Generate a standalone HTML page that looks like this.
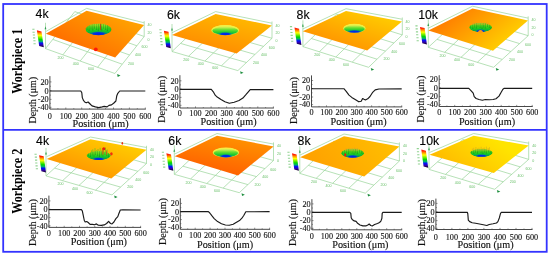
<!DOCTYPE html><html><head><meta charset="utf-8"><style>html,body{margin:0;padding:0;background:#fff;width:550px;height:257px;overflow:hidden}svg{display:block;will-change:transform}</style></head><body>
<svg width="550" height="257" viewBox="0 0 550 257">
<defs>
<linearGradient id="bar" x1="0" y1="0" x2="0" y2="1"><stop offset="0" stop-color="#ff1010"/><stop offset="0.08" stop-color="#ff2800"/><stop offset="0.17" stop-color="#ff9000"/><stop offset="0.3" stop-color="#ffff00"/><stop offset="0.42" stop-color="#80f000"/><stop offset="0.55" stop-color="#00d800"/><stop offset="0.66" stop-color="#00b070"/><stop offset="0.76" stop-color="#0010ff"/><stop offset="0.87" stop-color="#3000b0"/><stop offset="1" stop-color="#100018"/></linearGradient>
<linearGradient id="crater" x1="0" y1="0" x2="0" y2="1"><stop offset="0" stop-color="#b8f030"/><stop offset="0.3" stop-color="#60e020"/><stop offset="0.55" stop-color="#20d020"/><stop offset="0.8" stop-color="#08b040"/><stop offset="1" stop-color="#009060"/></linearGradient>
<linearGradient id="crater2" x1="0" y1="0" x2="0" y2="1"><stop offset="0" stop-color="#eef470"/><stop offset="0.22" stop-color="#c8ee50"/><stop offset="0.45" stop-color="#68de30"/><stop offset="0.7" stop-color="#20cc30"/><stop offset="1" stop-color="#00a860"/></linearGradient>
<radialGradient id="blue"><stop offset="0" stop-color="#0020f0"/><stop offset="0.5" stop-color="#0030e0"/><stop offset="1" stop-color="#00a080" stop-opacity="0"/></radialGradient>
<linearGradient id="pl0" gradientUnits="userSpaceOnUse" x1="47.7" y1="30.1" x2="70.3" y2="-13.3"><stop offset="0" stop-color="#ff7200"/><stop offset="1" stop-color="#ffa400"/></linearGradient>
<linearGradient id="pl1" gradientUnits="userSpaceOnUse" x1="236.6" y1="53.6" x2="245.7" y2="18.7"><stop offset="0" stop-color="#ff9000"/><stop offset="1" stop-color="#ffb700"/></linearGradient>
<linearGradient id="pl2" gradientUnits="userSpaceOnUse" x1="302.7" y1="31.3" x2="315.5" y2="-6.3"><stop offset="0" stop-color="#ff9800"/><stop offset="1" stop-color="#ffca00"/></linearGradient>
<linearGradient id="pl3" gradientUnits="userSpaceOnUse" x1="431.5" y1="34.1" x2="465.0" y2="73.8"><stop offset="0" stop-color="#ff8200"/><stop offset="1" stop-color="#ffca00"/></linearGradient>
<linearGradient id="pl4" gradientUnits="userSpaceOnUse" x1="46.7" y1="158.9" x2="60.1" y2="120.4"><stop offset="0" stop-color="#ff9a00"/><stop offset="1" stop-color="#ffcc00"/></linearGradient>
<linearGradient id="pl5" gradientUnits="userSpaceOnUse" x1="238.0" y1="175.5" x2="244.6" y2="140.9"><stop offset="0" stop-color="#ff6200"/><stop offset="1" stop-color="#ff8f00"/></linearGradient>
<linearGradient id="pl6" gradientUnits="userSpaceOnUse" x1="300.1" y1="157.3" x2="370.1" y2="106.2"><stop offset="0" stop-color="#ff9f00"/><stop offset="1" stop-color="#ffc000"/></linearGradient>
<linearGradient id="pl7" gradientUnits="userSpaceOnUse" x1="429.5" y1="154.8" x2="459.4" y2="113.7"><stop offset="0" stop-color="#ffba00"/><stop offset="1" stop-color="#ffe400"/></linearGradient>
</defs>
<rect width="550" height="257" fill="#fff"/>
<g stroke="#98d498" stroke-width="0.7" fill="none"><polygon points="45.5,48.6 74.8,11.6 144.2,36.5 114.9,73.5"/><line x1="62.9" y1="54.8" x2="92.1" y2="17.8"/><line x1="52.8" y1="39.4" x2="122.2" y2="64.2"/><line x1="80.2" y1="61.0" x2="109.5" y2="24.1"/><line x1="60.1" y1="30.1" x2="129.6" y2="55.0"/><line x1="97.6" y1="67.3" x2="126.8" y2="30.3"/><line x1="67.5" y1="20.9" x2="136.9" y2="45.8"/><polyline points="45.8,31.5 86.6,8.4 144.1,22.8"/><line x1="45.5" y1="22.799999999999997" x2="45.5" y2="48.6"/><line x1="144.2" y1="21.1" x2="144.2" y2="36.5"/></g>
<g font-family="Liberation Sans, sans-serif" font-size="3.6" fill="#3fae3f" opacity="0.8"><text x="57.6" y="59.3">200</text><text x="72.8" y="64.8">400</text><text x="88.1" y="70.3">600</text><text x="128.1" y="64.7">200</text><text x="134.9" y="56.2">400</text><text x="141.6" y="47.7">600</text><text x="147.6" y="26.1">40</text><text x="147.6" y="33.6">20</text><text x="147.6" y="41.1">0</text></g>
<path d="M117.1,74.1 l3.4,1.5 l-2.8,1.3 z" fill="#1f8f3f"/>
<path d="M44.6,29.3 h1.8 l-0.9,-3 z" fill="#2f9f4f"/>
<polygon points="45.8,33.8 86.6,10.7 144.1,25.1 115.2,57.4" fill="url(#pl0)"/>
<clipPath id="cc0"><ellipse cx="98.5" cy="29.4" rx="13" ry="5.8"/></clipPath>
<g clip-path="url(#cc0)"><ellipse cx="98.5" cy="29.4" rx="13" ry="5.8" fill="url(#crater)"/><path d="M85.5,23.6 v5.2 M87.1,23.6 v6.4 M89.1,23.6 v7.5 M91.0,23.6 v5.8 M92.8,23.6 v7.0 M94.4,23.6 v5.2 M96.4,23.6 v6.4 M98.3,23.6 v7.5 M100.1,23.6 v5.8 M101.7,23.6 v7.0 M103.7,23.6 v5.2 M105.6,23.6 v6.4 M107.4,23.6 v7.5 M109.0,23.6 v5.8 M111.0,23.6 v7.0" stroke="#067018" stroke-width="0.7" opacity="0.6"/><ellipse cx="98.5" cy="34.0" rx="10.4" ry="2.9" fill="url(#blue)"/></g>
<path d="M90.7,26.2 V24.2 M92.0,26.2 V23.8 M94.2,26.2 V23.5 M96.0,26.2 V24.1 M97.2,26.2 V23.7 M99.5,26.2 V23.4 M101.2,26.2 V24.0 M102.5,26.2 V23.6 M104.7,26.2 V23.3" stroke="#a0d020" stroke-width="0.8" opacity="0.8"/>
<ellipse cx="100.6" cy="27.0" rx="0.55" ry="3.4" fill="#b84018"/>
<ellipse cx="95.8" cy="49.4" rx="1.9" ry="1.8" fill="#ff1808"/>
<polygon points="36.9,30.3 41.5,31.4 43.8,47.2 39.2,46.1" fill="url(#bar)"/>
<path d="M32.3,29.3 h2.2 M32.5,32.2 h2.2 M32.8,35.0 h2.2 M33.0,37.9 h2.2 M33.3,40.8 h2.2 M33.5,43.7 h2.2" stroke="#6cc46c" stroke-width="1.1" opacity="0.75"/>
<text x="35.6" y="18.0" font-family="Liberation Sans, sans-serif" font-size="12.3" fill="#000" stroke="#000" stroke-width="0.12">4k</text>
<g stroke="#98d498" stroke-width="0.7" fill="none"><polygon points="172.0,51.5 206.1,19.2 272.0,38.3 237.9,70.6"/><line x1="188.5" y1="56.3" x2="222.6" y2="24.0"/><line x1="180.5" y1="43.4" x2="246.4" y2="62.5"/><line x1="204.9" y1="61.0" x2="239.1" y2="28.8"/><line x1="189.1" y1="35.4" x2="254.9" y2="54.4"/><line x1="221.4" y1="65.8" x2="255.5" y2="33.5"/><line x1="197.6" y1="27.3" x2="263.5" y2="46.4"/><polyline points="172.0,32.7 215.6,11.6 271.9,23.2"/><line x1="172" y1="24" x2="172" y2="51.5"/><line x1="272" y1="21.5" x2="272" y2="38.3"/></g>
<g font-family="Liberation Sans, sans-serif" font-size="3.6" fill="#3fae3f" opacity="0.8"><text x="183.3" y="61.0">200</text><text x="197.8" y="65.2">400</text><text x="212.3" y="69.4">600</text><text x="253.0" y="63.7">200</text><text x="260.9" y="56.3">400</text><text x="268.7" y="48.8">600</text><text x="275.4" y="26.5">40</text><text x="275.4" y="34.0">20</text><text x="275.4" y="41.5">0</text></g>
<path d="M240.1,71.2 l3.4,1.5 l-2.8,1.3 z" fill="#1f8f3f"/>
<path d="M171.1,30.5 h1.8 l-0.9,-3 z" fill="#2f9f4f"/>
<polygon points="172.0,35.0 215.6,13.9 271.9,25.5 236.6,53.6" fill="url(#pl1)"/>
<clipPath id="cc1"><ellipse cx="225.2" cy="30.2" rx="13.8" ry="5.1"/></clipPath>
<g clip-path="url(#cc1)"><ellipse cx="225.2" cy="30.2" rx="13.8" ry="5.1" fill="url(#crater2)"/><ellipse cx="225.2" cy="30.8" rx="13.8" ry="5.1" fill="none" stroke="#f4f040" stroke-width="1.8" opacity="0.9"/><ellipse cx="225.2" cy="34.3" rx="8.3" ry="2.5" fill="url(#blue)"/></g>
<polygon points="163.9,30.7 168.5,31.8 170.8,48.2 166.2,47.1" fill="url(#bar)"/>
<path d="M159.3,29.7 h2.2 M159.6,32.7 h2.2 M159.8,35.7 h2.2 M160.1,38.6 h2.2 M160.3,41.6 h2.2 M160.6,44.6 h2.2" stroke="#6cc46c" stroke-width="1.1" opacity="0.75"/>
<text x="167.0" y="19.0" font-family="Liberation Sans, sans-serif" font-size="12.3" fill="#000" stroke="#000" stroke-width="0.12">6k</text>
<g stroke="#98d498" stroke-width="0.7" fill="none"><polygon points="302.9,46.6 336.6,14.2 402.3,34.9 368.6,67.3"/><line x1="319.3" y1="51.8" x2="353.0" y2="19.4"/><line x1="311.3" y1="38.5" x2="377.0" y2="59.2"/><line x1="335.8" y1="57.0" x2="369.4" y2="24.6"/><line x1="319.8" y1="30.4" x2="385.5" y2="51.1"/><line x1="352.2" y1="62.1" x2="385.9" y2="29.7"/><line x1="328.2" y1="22.3" x2="393.9" y2="43.0"/><polyline points="302.7,29.0 346.0,8.7 402.0,19.2"/><line x1="302.9" y1="20.3" x2="302.9" y2="46.6"/><line x1="402.3" y1="17.5" x2="402.3" y2="34.9"/></g>
<g font-family="Liberation Sans, sans-serif" font-size="3.6" fill="#3fae3f" opacity="0.8"><text x="314.2" y="56.4">200</text><text x="328.7" y="61.0">400</text><text x="343.1" y="65.6">600</text><text x="383.6" y="60.3">200</text><text x="391.3" y="52.9">400</text><text x="399.1" y="45.4">600</text><text x="405.5" y="22.5">40</text><text x="405.5" y="30.0">20</text><text x="405.5" y="37.5">0</text></g>
<path d="M370.8,67.9 l3.4,1.5 l-2.8,1.3 z" fill="#1f8f3f"/>
<path d="M302.0,26.8 h1.8 l-0.9,-3 z" fill="#2f9f4f"/>
<polygon points="302.7,31.3 346.0,11.0 402.0,21.5 367.2,50.5" fill="url(#pl2)"/>
<clipPath id="cc2"><ellipse cx="354.4" cy="28.3" rx="11.25" ry="4.5"/></clipPath>
<g clip-path="url(#cc2)"><ellipse cx="354.4" cy="28.3" rx="11.25" ry="4.5" fill="url(#crater2)"/><ellipse cx="354.4" cy="28.900000000000002" rx="11.25" ry="4.5" fill="none" stroke="#f4f040" stroke-width="1.8" opacity="0.9"/><ellipse cx="354.4" cy="31.9" rx="8.4" ry="2.2" fill="url(#blue)"/></g>
<polygon points="294.5,27.6 299.1,28.8 301.4,44.9 296.8,43.8" fill="url(#bar)"/>
<path d="M289.9,26.6 h2.2 M290.1,29.5 h2.2 M290.4,32.5 h2.2 M290.6,35.4 h2.2 M290.9,38.4 h2.2 M291.1,41.3 h2.2" stroke="#6cc46c" stroke-width="1.1" opacity="0.75"/>
<text x="296.6" y="19.0" font-family="Liberation Sans, sans-serif" font-size="12.3" fill="#000" stroke="#000" stroke-width="0.12">8k</text>
<g stroke="#98d498" stroke-width="0.7" fill="none"><polygon points="428.3,47.3 462.9,15.7 528.2,35.7 493.6,67.3"/><line x1="444.6" y1="52.3" x2="479.2" y2="20.7"/><line x1="437.0" y1="39.4" x2="502.2" y2="59.4"/><line x1="461.0" y1="57.3" x2="495.6" y2="25.7"/><line x1="445.6" y1="31.5" x2="510.9" y2="51.5"/><line x1="477.3" y1="62.3" x2="511.9" y2="30.7"/><line x1="454.2" y1="23.6" x2="519.6" y2="43.6"/><polyline points="428.4,28.1 472.5,6.2 528.0,18.1"/><line x1="428.3" y1="19.4" x2="428.3" y2="47.3"/><line x1="528.2" y1="16.4" x2="528.2" y2="35.7"/></g>
<g font-family="Liberation Sans, sans-serif" font-size="3.6" fill="#3fae3f" opacity="0.8"><text x="439.5" y="57.0">200</text><text x="453.9" y="61.4">400</text><text x="468.2" y="65.8">600</text><text x="508.9" y="60.7">200</text><text x="516.9" y="53.4">400</text><text x="524.9" y="46.1">600</text><text x="531.5" y="21.4">40</text><text x="531.5" y="28.9">20</text><text x="531.5" y="36.4">0</text></g>
<path d="M495.8,67.9 l3.4,1.5 l-2.8,1.3 z" fill="#1f8f3f"/>
<path d="M427.4,25.9 h1.8 l-0.9,-3 z" fill="#2f9f4f"/>
<polygon points="428.4,30.4 472.5,8.5 528.0,20.4 493.0,50.7" fill="url(#pl3)"/>
<clipPath id="cc3"><ellipse cx="480.6" cy="27.5" rx="11.5" ry="4.75"/></clipPath>
<g clip-path="url(#cc3)"><ellipse cx="480.6" cy="27.5" rx="11.5" ry="4.75" fill="url(#crater)"/><path d="M469.1,22.8 v4.3 M470.7,22.8 v5.2 M472.8,22.8 v6.2 M474.7,22.8 v4.8 M476.4,22.8 v5.7 M478.0,22.8 v4.3 M480.1,22.8 v5.2 M482.0,22.8 v6.2 M483.7,22.8 v4.8 M485.3,22.8 v5.7 M487.4,22.8 v4.3 M489.3,22.8 v5.2 M491.0,22.8 v6.2" stroke="#067018" stroke-width="0.7" opacity="0.6"/><ellipse cx="480.6" cy="31.3" rx="5.8" ry="2.4" fill="url(#blue)"/></g>
<path d="M472.6,24.9 V23.0 M473.9,24.9 V22.5 M476.1,24.9 V22.0 M477.8,24.9 V22.9 M479.1,24.9 V22.3 M481.3,24.9 V21.8 M483.1,24.9 V22.7 M484.4,24.9 V22.2 M486.6,24.9 V21.7 M488.3,24.9 V22.6" stroke="#e0a020" stroke-width="0.8" opacity="0.8"/>
<ellipse cx="480.5" cy="31.6" rx="2.2" ry="1.6" fill="#ff9a10"/>
<polygon points="420.0,26.9 424.6,28.0 426.9,44.4 422.3,43.3" fill="url(#bar)"/>
<path d="M415.4,25.9 h2.2 M415.6,28.9 h2.2 M415.9,31.9 h2.2 M416.1,34.8 h2.2 M416.4,37.8 h2.2 M416.6,40.8 h2.2" stroke="#6cc46c" stroke-width="1.1" opacity="0.75"/>
<text x="418.2" y="18.8" font-family="Liberation Sans, sans-serif" font-size="12.3" fill="#000" stroke="#000" stroke-width="0.12">10k</text>
<g stroke="#98d498" stroke-width="0.7" fill="none"><polygon points="46.0,175.9 80.5,144.5 146.5,163.5 112.0,194.9"/><line x1="62.5" y1="180.7" x2="97.0" y2="149.2"/><line x1="54.6" y1="168.1" x2="120.6" y2="187.1"/><line x1="79.0" y1="185.4" x2="113.5" y2="154.0"/><line x1="63.2" y1="160.2" x2="129.2" y2="179.2"/><line x1="95.5" y1="190.2" x2="130.0" y2="158.8"/><line x1="71.9" y1="152.3" x2="137.9" y2="171.3"/><polyline points="46.7,156.6 90.5,137.0 146.5,147.5"/><line x1="46.0" y1="147.9" x2="46.0" y2="175.9"/><line x1="146.5" y1="145.8" x2="146.5" y2="163.5"/></g>
<g font-family="Liberation Sans, sans-serif" font-size="3.6" fill="#3fae3f" opacity="0.8"><text x="57.4" y="185.4">200</text><text x="71.9" y="189.6">400</text><text x="86.4" y="193.8">600</text><text x="127.3" y="188.3">200</text><text x="135.2" y="181.1">400</text><text x="143.2" y="173.9">600</text><text x="150.0" y="150.8">40</text><text x="150.0" y="158.3">20</text><text x="150.0" y="165.8">0</text></g>
<path d="M114.2,195.5 l3.4,1.5 l-2.8,1.3 z" fill="#1f8f3f"/>
<path d="M45.1,154.4 h1.8 l-0.9,-3 z" fill="#2f9f4f"/>
<polygon points="46.7,158.9 90.5,139.3 146.5,149.8 111.3,178.6" fill="url(#pl4)"/>
<clipPath id="cc4"><ellipse cx="98.7" cy="155.6" rx="12" ry="4.5"/></clipPath>
<g clip-path="url(#cc4)"><ellipse cx="98.7" cy="155.6" rx="12" ry="4.5" fill="url(#crater)"/><path d="M86.7,151.1 v4.0 M88.3,151.1 v5.0 M90.3,151.1 v5.9 M92.2,151.1 v4.5 M94.0,151.1 v5.4 M95.6,151.1 v4.0 M97.6,151.1 v5.0 M99.5,151.1 v5.9 M101.3,151.1 v4.5 M102.9,151.1 v5.4 M104.9,151.1 v4.0 M106.8,151.1 v5.0 M108.6,151.1 v5.9 M110.2,151.1 v4.5" stroke="#067018" stroke-width="0.7" opacity="0.6"/><ellipse cx="98.7" cy="159.2" rx="7.2" ry="2.2" fill="url(#blue)"/></g>
<path d="M91.5,153.1 V150.4 M92.8,153.1 V149.3 M95.0,153.1 V148.1 M96.8,153.1 V150.1 M98.0,153.1 V149.0 M100.2,153.1 V147.8 M102.0,153.1 V149.8 M103.3,153.1 V148.7 M105.5,153.1 V147.5 M107.2,153.1 V149.5" stroke="#50c820" stroke-width="0.8" opacity="0.8"/>
<ellipse cx="103.8" cy="148.8" rx="1.6" ry="1.5" fill="#e82008"/>
<ellipse cx="111.4" cy="153.8" rx="1.3" ry="1.6" fill="#f03010"/>
<ellipse cx="122.3" cy="143.3" rx="0.8" ry="1.4" fill="#e83010"/>
<ellipse cx="102.9" cy="152" rx="0.6" ry="3" fill="#e05010"/>
<ellipse cx="106.5" cy="152.5" rx="0.5" ry="2.5" fill="#c06020"/>
<polygon points="39.1,155.2 43.7,156.3 46.0,172.4 41.4,171.3" fill="url(#bar)"/>
<path d="M34.5,154.2 h2.2 M34.8,157.1 h2.2 M35.0,160.1 h2.2 M35.2,163.0 h2.2 M35.5,165.9 h2.2 M35.8,168.8 h2.2" stroke="#6cc46c" stroke-width="1.1" opacity="0.75"/>
<text x="36.1" y="145.2" font-family="Liberation Sans, sans-serif" font-size="12.3" fill="#000" stroke="#000" stroke-width="0.12">4k</text>
<g stroke="#98d498" stroke-width="0.7" fill="none"><polygon points="174.3,174.3 208.5,142.1 273.5,160.5 239.3,192.7"/><line x1="190.6" y1="178.9" x2="224.8" y2="146.7"/><line x1="182.9" y1="166.2" x2="247.9" y2="184.6"/><line x1="206.8" y1="183.5" x2="241.0" y2="151.3"/><line x1="191.4" y1="158.2" x2="256.4" y2="176.6"/><line x1="223.1" y1="188.1" x2="257.2" y2="155.9"/><line x1="199.9" y1="150.2" x2="264.9" y2="168.6"/><polyline points="174.7,154.0 217.0,133.5 273.6,144.1"/><line x1="174.3" y1="145.3" x2="174.3" y2="174.3"/><line x1="273.5" y1="142.4" x2="273.5" y2="160.5"/></g>
<g font-family="Liberation Sans, sans-serif" font-size="3.6" fill="#3fae3f" opacity="0.8"><text x="185.5" y="183.7">200</text><text x="199.8" y="187.7">400</text><text x="214.1" y="191.8">600</text><text x="254.5" y="185.8">200</text><text x="262.3" y="178.4">400</text><text x="270.2" y="171.0">600</text><text x="277.1" y="147.4">40</text><text x="277.1" y="154.9">20</text><text x="277.1" y="162.4">0</text></g>
<path d="M241.5,193.3 l3.4,1.5 l-2.8,1.3 z" fill="#1f8f3f"/>
<path d="M173.4,151.8 h1.8 l-0.9,-3 z" fill="#2f9f4f"/>
<polygon points="174.7,156.3 217.0,135.8 273.6,146.4 238.0,175.5" fill="url(#pl5)"/>
<clipPath id="cc5"><ellipse cx="225.9" cy="152.5" rx="13.1" ry="4.9"/></clipPath>
<g clip-path="url(#cc5)"><ellipse cx="225.9" cy="152.5" rx="13.1" ry="4.9" fill="url(#crater2)"/><ellipse cx="225.9" cy="153.1" rx="13.1" ry="4.9" fill="none" stroke="#f4f040" stroke-width="1.8" opacity="0.9"/><ellipse cx="225.9" cy="156.4" rx="7.2" ry="2.5" fill="url(#blue)"/></g>
<polygon points="166.4,153.3 171.0,154.5 173.3,170.8 168.7,169.6" fill="url(#bar)"/>
<path d="M161.8,152.3 h2.2 M162.1,155.3 h2.2 M162.3,158.2 h2.2 M162.6,161.2 h2.2 M162.8,164.2 h2.2 M163.1,167.1 h2.2" stroke="#6cc46c" stroke-width="1.1" opacity="0.75"/>
<text x="168.3" y="145.2" font-family="Liberation Sans, sans-serif" font-size="12.3" fill="#000" stroke="#000" stroke-width="0.12">6k</text>
<g stroke="#98d498" stroke-width="0.7" fill="none"><polygon points="299.8,173.4 333.9,141.2 399.4,161.0 365.3,193.2"/><line x1="316.2" y1="178.3" x2="350.3" y2="146.2"/><line x1="308.3" y1="165.4" x2="373.8" y2="185.1"/><line x1="332.6" y1="183.3" x2="366.6" y2="151.1"/><line x1="316.9" y1="157.3" x2="382.4" y2="177.1"/><line x1="348.9" y1="188.2" x2="383.0" y2="156.1"/><line x1="325.4" y1="149.2" x2="390.9" y2="169.1"/><polyline points="300.1,155.0 344.0,134.0 399.4,144.1"/><line x1="299.8" y1="146.3" x2="299.8" y2="173.4"/><line x1="399.4" y1="142.4" x2="399.4" y2="161"/></g>
<g font-family="Liberation Sans, sans-serif" font-size="3.6" fill="#3fae3f" opacity="0.8"><text x="311.1" y="183.1">200</text><text x="325.5" y="187.4">400</text><text x="339.9" y="191.8">600</text><text x="380.4" y="186.3">200</text><text x="388.3" y="178.9">400</text><text x="396.1" y="171.5">600</text><text x="402.9" y="147.4">40</text><text x="402.9" y="154.9">20</text><text x="402.9" y="162.4">0</text></g>
<path d="M367.5,193.8 l3.4,1.5 l-2.8,1.3 z" fill="#1f8f3f"/>
<path d="M298.9,152.8 h1.8 l-0.9,-3 z" fill="#2f9f4f"/>
<polygon points="300.1,157.3 344.0,136.3 399.4,146.4 364.2,176.4" fill="url(#pl6)"/>
<clipPath id="cc6"><ellipse cx="352.6" cy="153.2" rx="11.5" ry="4.6"/></clipPath>
<g clip-path="url(#cc6)"><ellipse cx="352.6" cy="153.2" rx="11.5" ry="4.6" fill="url(#crater)"/><path d="M341.1,148.6 v4.1 M342.7,148.6 v5.1 M344.8,148.6 v6.0 M346.7,148.6 v4.6 M348.4,148.6 v5.5 M350.0,148.6 v4.1 M352.1,148.6 v5.1 M354.0,148.6 v6.0 M355.7,148.6 v4.6 M357.3,148.6 v5.5 M359.4,148.6 v4.1 M361.3,148.6 v5.1 M363.0,148.6 v6.0" stroke="#067018" stroke-width="0.7" opacity="0.6"/><ellipse cx="352.6" cy="156.9" rx="6.9" ry="2.3" fill="url(#blue)"/></g>
<path d="M345.7,150.7 V148.8 M347.0,150.7 V148.3 M349.2,150.7 V147.8 M351.0,150.7 V148.7 M352.3,150.7 V148.2 M354.5,150.7 V147.6 M356.2,150.7 V148.6 M357.5,150.7 V148.0" stroke="#e0a030" stroke-width="0.8" opacity="0.8"/>
<ellipse cx="345.3" cy="154.9" rx="1.1" ry="1.6" fill="#f01808"/>
<polygon points="292.0,153.3 296.6,154.5 298.9,170.8 294.3,169.6" fill="url(#bar)"/>
<path d="M287.4,152.3 h2.2 M287.6,155.3 h2.2 M287.9,158.2 h2.2 M288.1,161.2 h2.2 M288.4,164.2 h2.2 M288.6,167.1 h2.2" stroke="#6cc46c" stroke-width="1.1" opacity="0.75"/>
<text x="297.6" y="145.4" font-family="Liberation Sans, sans-serif" font-size="12.3" fill="#000" stroke="#000" stroke-width="0.12">8k</text>
<g stroke="#98d498" stroke-width="0.7" fill="none"><polygon points="429.0,169.4 463.0,139.5 528.7,159.4 494.7,189.3"/><line x1="445.4" y1="174.4" x2="479.4" y2="144.5"/><line x1="437.5" y1="161.9" x2="503.2" y2="181.8"/><line x1="461.9" y1="179.4" x2="495.9" y2="149.4"/><line x1="446.0" y1="154.4" x2="511.7" y2="174.4"/><line x1="478.3" y1="184.3" x2="512.3" y2="154.4"/><line x1="454.5" y1="147.0" x2="520.2" y2="166.9"/><polyline points="429.5,152.5 473.6,133.5 528.7,143.2"/><line x1="429" y1="143.8" x2="429" y2="169.4"/><line x1="528.7" y1="141.5" x2="528.7" y2="159.4"/></g>
<g font-family="Liberation Sans, sans-serif" font-size="3.6" fill="#3fae3f" opacity="0.8"><text x="440.3" y="179.1">200</text><text x="454.8" y="183.5">400</text><text x="469.2" y="187.8">600</text><text x="509.8" y="183.3">200</text><text x="517.6" y="176.5">400</text><text x="525.4" y="169.6">600</text><text x="532.2" y="146.5">40</text><text x="532.2" y="154.0">20</text><text x="532.2" y="161.5">0</text></g>
<path d="M496.9,189.9 l3.4,1.5 l-2.8,1.3 z" fill="#1f8f3f"/>
<path d="M428.1,150.3 h1.8 l-0.9,-3 z" fill="#2f9f4f"/>
<polygon points="429.5,154.8 473.6,135.8 528.7,145.5 493.8,173.0" fill="url(#pl7)"/>
<clipPath id="cc7"><ellipse cx="481.4" cy="152.8" rx="11.3" ry="4.0"/></clipPath>
<g clip-path="url(#cc7)"><ellipse cx="481.4" cy="152.8" rx="11.3" ry="4.0" fill="url(#crater)"/><path d="M470.1,148.8 v3.6 M471.7,148.8 v4.4 M473.8,148.8 v5.2 M475.6,148.8 v4.0 M477.4,148.8 v4.8 M479.0,148.8 v3.6 M481.1,148.8 v4.4 M482.9,148.8 v5.2 M484.7,148.8 v4.0 M486.3,148.8 v4.8 M488.4,148.8 v3.6 M490.2,148.8 v4.4 M492.0,148.8 v5.2" stroke="#067018" stroke-width="0.7" opacity="0.6"/><ellipse cx="481.4" cy="156.0" rx="6.8" ry="2.0" fill="url(#blue)"/></g>
<path d="M472.4,150.6 V148.6 M473.7,150.6 V147.8 M475.9,150.6 V147.0 M477.6,150.6 V148.4 M478.9,150.6 V147.6 M481.1,150.6 V146.8 M482.9,150.6 V148.2 M484.2,150.6 V147.4 M486.4,150.6 V146.6 M488.1,150.6 V148.0 M489.4,150.6 V147.2" stroke="#d0b020" stroke-width="0.8" opacity="0.8"/>
<polygon points="421.3,149.6 425.9,150.8 428.2,167.7 423.6,166.5" fill="url(#bar)"/>
<path d="M416.7,148.6 h2.2 M416.9,151.7 h2.2 M417.2,154.7 h2.2 M417.4,157.8 h2.2 M417.7,160.9 h2.2 M417.9,164.0 h2.2" stroke="#6cc46c" stroke-width="1.1" opacity="0.75"/>
<text x="419.3" y="145.2" font-family="Liberation Sans, sans-serif" font-size="12.3" fill="#000" stroke="#000" stroke-width="0.12">10k</text>
<g font-family="Liberation Serif, serif" font-size="8.2" fill="#111" stroke="#111" stroke-width="0.12"><path d="M49.9,76.1 V109.1 H145.8" stroke="#333" stroke-width="0.9" fill="none"/><path d="M49.9,109.1 v-1.6 M57.9,109.1 v-1 M65.8,109.1 v-1.6 M73.8,109.1 v-1 M81.7,109.1 v-1.6 M89.7,109.1 v-1 M97.6,109.1 v-1.6 M105.5,109.1 v-1 M113.5,109.1 v-1.6 M121.4,109.1 v-1 M129.4,109.1 v-1.6 M137.3,109.1 v-1 M145.3,109.1 v-1.6 M49.9,81.9 h1.6 M49.9,86.3 h1 M49.9,90.7 h1.6 M49.9,95.1 h1 M49.9,99.4 h1.6 M49.9,103.3 h1 M49.9,107.3 h1.6" stroke="#444" stroke-width="0.6"/><polyline points="49.9,91.0 80.8,91.0 81.8,92.8 82.3,97.6 83.3,100.1 84.7,102.0 86.2,102.8 88.1,102.0 90.1,104.0 92.0,105.9 95.4,106.9 98.8,107.6 102.2,106.9 104.2,106.4 107.1,106.9 109.0,105.4 111.5,104.9 113.9,103.0 115.9,101.0 116.8,95.7 117.8,93.3 119.7,91.0 145.3,91.0" stroke="#1a1a1a" stroke-width="1.15" fill="none" stroke-linejoin="round"/><text x="48.6" y="84.7" text-anchor="end">20</text><text x="48.6" y="93.5" text-anchor="end">0</text><text x="48.6" y="102.2" text-anchor="end">-20</text><text x="48.6" y="110.1" text-anchor="end">-40</text><text x="49.9" y="118.8" text-anchor="middle">0</text><text x="65.8" y="118.8" text-anchor="middle">100</text><text x="81.7" y="118.8" text-anchor="middle">200</text><text x="97.6" y="118.8" text-anchor="middle">300</text><text x="113.5" y="118.8" text-anchor="middle">400</text><text x="129.4" y="118.8" text-anchor="middle">500</text><text x="145.3" y="118.8" text-anchor="middle">600</text></g>
<text x="100.6" y="126.7" text-anchor="middle" font-family="Liberation Serif, serif" font-size="10.2" fill="#111" stroke="#111" stroke-width="0.15">Position (μm)</text>
<text transform="translate(35.8,100.2) rotate(-90)" text-anchor="middle" font-family="Liberation Serif, serif" font-size="10" fill="#111" stroke="#111" stroke-width="0.15">Depth (μm)</text>
<g font-family="Liberation Serif, serif" font-size="8.2" fill="#111" stroke="#111" stroke-width="0.12"><path d="M179.9,75.2 V108.0 H273.9" stroke="#333" stroke-width="0.9" fill="none"/><path d="M179.9,108.0 v-1.6 M187.7,108.0 v-1 M195.5,108.0 v-1.6 M203.3,108.0 v-1 M211.1,108.0 v-1.6 M218.9,108.0 v-1 M226.6,108.0 v-1.6 M234.4,108.0 v-1 M242.2,108.0 v-1.6 M250.0,108.0 v-1 M257.8,108.0 v-1.6 M265.6,108.0 v-1 M273.4,108.0 v-1.6 M179.9,80.8 h1.6 M179.9,84.9 h1 M179.9,89.0 h1.6 M179.9,93.2 h1 M179.9,97.4 h1.6 M179.9,101.3 h1 M179.9,105.3 h1.6" stroke="#444" stroke-width="0.6"/><polyline points="179.9,89.4 211.3,89.4 213.3,91.8 215.2,95.2 217.2,97.1 221.0,99.6 224.9,101.8 229.3,103.3 234.2,102.3 239.0,100.5 242.9,98.1 245.9,94.7 248.3,91.8 250.2,89.6 273.4,89.6" stroke="#1a1a1a" stroke-width="1.15" fill="none" stroke-linejoin="round"/><text x="178.6" y="83.6" text-anchor="end">20</text><text x="178.6" y="91.8" text-anchor="end">0</text><text x="178.6" y="100.2" text-anchor="end">-20</text><text x="178.6" y="108.1" text-anchor="end">-40</text><text x="179.9" y="116.2" text-anchor="middle">0</text><text x="195.5" y="116.2" text-anchor="middle">100</text><text x="211.1" y="116.2" text-anchor="middle">200</text><text x="226.6" y="116.2" text-anchor="middle">300</text><text x="242.2" y="116.2" text-anchor="middle">400</text><text x="257.8" y="116.2" text-anchor="middle">500</text><text x="273.4" y="116.2" text-anchor="middle">600</text></g>
<text x="228.6" y="125.2" text-anchor="middle" font-family="Liberation Serif, serif" font-size="10.2" fill="#111" stroke="#111" stroke-width="0.15">Position (μm)</text>
<text transform="translate(165.0,99.4) rotate(-90)" text-anchor="middle" font-family="Liberation Serif, serif" font-size="10" fill="#111" stroke="#111" stroke-width="0.15">Depth (μm)</text>
<g font-family="Liberation Serif, serif" font-size="8.2" fill="#111" stroke="#111" stroke-width="0.12"><path d="M311.5,75.4 V106.9 H402.2" stroke="#333" stroke-width="0.9" fill="none"/><path d="M311.5,106.9 v-1.6 M319.0,106.9 v-1 M326.5,106.9 v-1.6 M334.1,106.9 v-1 M341.6,106.9 v-1.6 M349.1,106.9 v-1 M356.6,106.9 v-1.6 M364.1,106.9 v-1 M371.6,106.9 v-1.6 M379.1,106.9 v-1 M386.7,106.9 v-1.6 M394.2,106.9 v-1 M401.7,106.9 v-1.6 M311.5,80.5 h1.6 M311.5,84.5 h1 M311.5,88.5 h1.6 M311.5,92.8 h1 M311.5,97.0 h1.6 M311.5,100.8 h1 M311.5,104.6 h1.6" stroke="#444" stroke-width="0.6"/><polyline points="311.5,88.7 343.9,88.7 346.2,91.3 349.0,95.1 351.8,97.4 355.6,99.8 358.8,101.8 361.2,101.2 362.6,98.6 364.0,99.3 365.4,99.9 367.7,98.8 370.0,96.5 372.4,92.7 375.2,89.9 378.9,89.0 401.7,88.9" stroke="#1a1a1a" stroke-width="1.15" fill="none" stroke-linejoin="round"/><text x="310.2" y="83.3" text-anchor="end">20</text><text x="310.2" y="91.3" text-anchor="end">0</text><text x="310.2" y="99.8" text-anchor="end">-20</text><text x="310.2" y="107.4" text-anchor="end">-40</text><text x="311.5" y="114.7" text-anchor="middle">0</text><text x="326.5" y="114.7" text-anchor="middle">100</text><text x="341.6" y="114.7" text-anchor="middle">200</text><text x="356.6" y="114.7" text-anchor="middle">300</text><text x="371.6" y="114.7" text-anchor="middle">400</text><text x="386.7" y="114.7" text-anchor="middle">500</text><text x="401.7" y="114.7" text-anchor="middle">600</text></g>
<text x="358.6" y="125.2" text-anchor="middle" font-family="Liberation Serif, serif" font-size="10.2" fill="#111" stroke="#111" stroke-width="0.15">Position (μm)</text>
<text transform="translate(296.5,100.6) rotate(-90)" text-anchor="middle" font-family="Liberation Serif, serif" font-size="10" fill="#111" stroke="#111" stroke-width="0.15">Depth (μm)</text>
<g font-family="Liberation Serif, serif" font-size="8.2" fill="#111" stroke="#111" stroke-width="0.12"><path d="M439.2,75.2 V106.5 H532.7" stroke="#333" stroke-width="0.9" fill="none"/><path d="M439.2,106.5 v-1.6 M446.9,106.5 v-1 M454.7,106.5 v-1.6 M462.4,106.5 v-1 M470.2,106.5 v-1.6 M477.9,106.5 v-1 M485.7,106.5 v-1.6 M493.5,106.5 v-1 M501.2,106.5 v-1.6 M509.0,106.5 v-1 M516.7,106.5 v-1.6 M524.5,106.5 v-1 M532.2,106.5 v-1.6 M439.2,79.4 h1.6 M439.2,83.6 h1 M439.2,87.8 h1.6 M439.2,92.2 h1 M439.2,96.6 h1.6 M439.2,100.5 h1 M439.2,104.5 h1.6" stroke="#444" stroke-width="0.6"/><polyline points="439.2,88.3 468.8,88.3 471.2,90.8 473.2,93.2 474.2,96.6 476.1,98.5 479.0,99.5 482.4,100.2 485.3,99.5 489.2,99.8 493.1,99.5 496.0,98.7 499.0,96.1 500.9,92.7 502.9,89.3 504.3,88.3 532.2,88.3" stroke="#1a1a1a" stroke-width="1.15" fill="none" stroke-linejoin="round"/><text x="437.9" y="82.2" text-anchor="end">20</text><text x="437.9" y="90.6" text-anchor="end">0</text><text x="437.9" y="99.4" text-anchor="end">-20</text><text x="437.9" y="107.3" text-anchor="end">-40</text><text x="439.2" y="115.0" text-anchor="middle">0</text><text x="454.7" y="115.0" text-anchor="middle">100</text><text x="470.2" y="115.0" text-anchor="middle">200</text><text x="485.7" y="115.0" text-anchor="middle">300</text><text x="501.2" y="115.0" text-anchor="middle">400</text><text x="516.7" y="115.0" text-anchor="middle">500</text><text x="532.2" y="115.0" text-anchor="middle">600</text></g>
<text x="487" y="124.8" text-anchor="middle" font-family="Liberation Serif, serif" font-size="10.2" fill="#111" stroke="#111" stroke-width="0.15">Position (μm)</text>
<text transform="translate(424.0,99.0) rotate(-90)" text-anchor="middle" font-family="Liberation Serif, serif" font-size="10" fill="#111" stroke="#111" stroke-width="0.15">Depth (μm)</text>
<g font-family="Liberation Serif, serif" font-size="8.2" fill="#111" stroke="#111" stroke-width="0.12"><path d="M48.9,195.6 V227.4 H141.1" stroke="#333" stroke-width="0.9" fill="none"/><path d="M48.9,227.4 v-1.6 M56.5,227.4 v-1 M64.2,227.4 v-1.6 M71.8,227.4 v-1 M79.5,227.4 v-1.6 M87.1,227.4 v-1 M94.8,227.4 v-1.6 M102.4,227.4 v-1 M110.0,227.4 v-1.6 M117.7,227.4 v-1 M125.3,227.4 v-1.6 M133.0,227.4 v-1 M140.6,227.4 v-1.6 M48.9,200.9 h1.6 M48.9,205.1 h1 M48.9,209.3 h1.6 M48.9,213.4 h1 M48.9,217.6 h1.6 M48.9,221.7 h1 M48.9,225.8 h1.6" stroke="#444" stroke-width="0.6"/><polyline points="48.9,209.6 81.4,209.6 82.3,210.8 83.3,215.7 84.3,220.5 85.2,222.0 86.7,221.5 88.2,222.5 90.1,224.4 92.5,224.4 94.5,224.7 96.4,223.9 98.4,225.2 101.3,225.4 104.2,224.9 106.6,223.5 108.6,221.3 110.5,223.5 112.0,223.9 113.9,222.0 115.9,218.6 117.8,216.6 118.8,213.7 120.3,210.0 122.7,209.8 140.6,210.0" stroke="#1a1a1a" stroke-width="1.15" fill="none" stroke-linejoin="round"/><text x="47.6" y="203.7" text-anchor="end">20</text><text x="47.6" y="212.1" text-anchor="end">0</text><text x="47.6" y="220.4" text-anchor="end">-20</text><text x="47.6" y="228.6" text-anchor="end">-40</text><text x="48.9" y="235.8" text-anchor="middle">0</text><text x="64.2" y="235.8" text-anchor="middle">100</text><text x="79.5" y="235.8" text-anchor="middle">200</text><text x="94.8" y="235.8" text-anchor="middle">300</text><text x="110.0" y="235.8" text-anchor="middle">400</text><text x="125.3" y="235.8" text-anchor="middle">500</text><text x="140.6" y="235.8" text-anchor="middle">600</text></g>
<text x="98.9" y="245.0" text-anchor="middle" font-family="Liberation Serif, serif" font-size="10.2" fill="#111" stroke="#111" stroke-width="0.15">Position (μm)</text>
<text transform="translate(35.6,222.5) rotate(-90)" text-anchor="middle" font-family="Liberation Serif, serif" font-size="10" fill="#111" stroke="#111" stroke-width="0.15">Depth (μm)</text>
<g font-family="Liberation Serif, serif" font-size="8.2" fill="#111" stroke="#111" stroke-width="0.12"><path d="M180.3,198.2 V229.3 H270.1" stroke="#333" stroke-width="0.9" fill="none"/><path d="M180.3,229.3 v-1.6 M187.7,229.3 v-1 M195.2,229.3 v-1.6 M202.6,229.3 v-1 M210.1,229.3 v-1.6 M217.5,229.3 v-1 M225.0,229.3 v-1.6 M232.4,229.3 v-1 M239.8,229.3 v-1.6 M247.3,229.3 v-1 M254.7,229.3 v-1.6 M262.2,229.3 v-1 M269.6,229.3 v-1.6 M180.3,203.4 h1.6 M180.3,207.6 h1 M180.3,211.7 h1.6 M180.3,215.6 h1 M180.3,219.6 h1.6 M180.3,223.6 h1 M180.3,227.5 h1.6" stroke="#444" stroke-width="0.6"/><polyline points="180.3,211.6 208.4,211.6 209.8,213.0 211.8,215.7 214.2,218.6 217.6,221.6 221.5,223.8 225.4,225.0 229.3,225.2 233.2,224.3 236.1,222.5 239.5,220.6 241.9,218.2 243.9,215.2 245.8,211.8 269.6,211.6" stroke="#1a1a1a" stroke-width="1.15" fill="none" stroke-linejoin="round"/><text x="179.0" y="206.2" text-anchor="end">20</text><text x="179.0" y="214.5" text-anchor="end">0</text><text x="179.0" y="222.4" text-anchor="end">-20</text><text x="179.0" y="230.3" text-anchor="end">-40</text><text x="180.3" y="237.6" text-anchor="middle">0</text><text x="195.2" y="237.6" text-anchor="middle">100</text><text x="210.1" y="237.6" text-anchor="middle">200</text><text x="225.0" y="237.6" text-anchor="middle">300</text><text x="239.8" y="237.6" text-anchor="middle">400</text><text x="254.7" y="237.6" text-anchor="middle">500</text><text x="269.6" y="237.6" text-anchor="middle">600</text></g>
<text x="225.1" y="247.6" text-anchor="middle" font-family="Liberation Serif, serif" font-size="10.2" fill="#111" stroke="#111" stroke-width="0.15">Position (μm)</text>
<text transform="translate(165.6,221.5) rotate(-90)" text-anchor="middle" font-family="Liberation Serif, serif" font-size="10" fill="#111" stroke="#111" stroke-width="0.15">Depth (μm)</text>
<g font-family="Liberation Serif, serif" font-size="8.2" fill="#111" stroke="#111" stroke-width="0.12"><path d="M311.9,199.2 V229.8 H402.2" stroke="#333" stroke-width="0.9" fill="none"/><path d="M311.9,229.8 v-1.6 M319.4,229.8 v-1 M326.9,229.8 v-1.6 M334.3,229.8 v-1 M341.8,229.8 v-1.6 M349.3,229.8 v-1 M356.8,229.8 v-1.6 M364.3,229.8 v-1 M371.8,229.8 v-1.6 M379.2,229.8 v-1 M386.7,229.8 v-1.6 M394.2,229.8 v-1 M401.7,229.8 v-1.6 M311.9,203.9 h1.6 M311.9,208.0 h1 M311.9,212.1 h1.6 M311.9,216.3 h1 M311.9,220.6 h1.6 M311.9,224.4 h1 M311.9,228.3 h1.6" stroke="#444" stroke-width="0.6"/><polyline points="311.9,212.3 349.8,212.3 350.8,213.3 351.2,217.7 352.2,219.6 354.2,220.9 356.1,221.4 357.6,223.3 360.0,225.0 362.9,225.9 365.8,225.9 367.8,225.0 369.2,224.0 370.7,225.5 372.2,225.9 374.6,224.5 377.5,223.5 379.5,222.5 380.9,221.1 381.9,218.2 382.2,213.3 382.9,212.3 401.7,212.3" stroke="#1a1a1a" stroke-width="1.15" fill="none" stroke-linejoin="round"/><text x="310.59999999999997" y="206.7" text-anchor="end">20</text><text x="310.59999999999997" y="214.9" text-anchor="end">0</text><text x="310.59999999999997" y="223.4" text-anchor="end">-20</text><text x="310.59999999999997" y="231.1" text-anchor="end">-40</text><text x="311.9" y="238.8" text-anchor="middle">0</text><text x="326.9" y="238.8" text-anchor="middle">100</text><text x="341.8" y="238.8" text-anchor="middle">200</text><text x="356.8" y="238.8" text-anchor="middle">300</text><text x="371.8" y="238.8" text-anchor="middle">400</text><text x="386.7" y="238.8" text-anchor="middle">500</text><text x="401.7" y="238.8" text-anchor="middle">600</text></g>
<text x="360.4" y="247.6" text-anchor="middle" font-family="Liberation Serif, serif" font-size="10.2" fill="#111" stroke="#111" stroke-width="0.15">Position (μm)</text>
<text transform="translate(296.3,222.5) rotate(-90)" text-anchor="middle" font-family="Liberation Serif, serif" font-size="10" fill="#111" stroke="#111" stroke-width="0.15">Depth (μm)</text>
<g font-family="Liberation Serif, serif" font-size="8.2" fill="#111" stroke="#111" stroke-width="0.12"><path d="M435.9,198.6 V229.5 H532.5" stroke="#333" stroke-width="0.9" fill="none"/><path d="M435.9,229.5 v-1.6 M443.9,229.5 v-1 M451.9,229.5 v-1.6 M459.9,229.5 v-1 M467.9,229.5 v-1.6 M475.9,229.5 v-1 M483.9,229.5 v-1.6 M492.0,229.5 v-1 M500.0,229.5 v-1.6 M508.0,229.5 v-1 M516.0,229.5 v-1.6 M524.0,229.5 v-1 M532.0,229.5 v-1.6 M435.9,203.4 h1.6 M435.9,207.6 h1 M435.9,211.8 h1.6 M435.9,216.2 h1 M435.9,220.6 h1.6 M435.9,224.4 h1 M435.9,228.3 h1.6" stroke="#444" stroke-width="0.6"/><polyline points="435.9,212.3 467.3,212.3 467.8,213.8 468.3,220.1 469.7,221.6 472.2,222.7 475.6,223.3 479.5,224.0 483.3,224.7 486.8,225.5 489.2,224.5 493.1,223.8 496.5,223.0 497.9,221.6 499.4,217.7 500.4,213.8 501.3,212.3 532.0,212.3" stroke="#1a1a1a" stroke-width="1.15" fill="none" stroke-linejoin="round"/><text x="434.59999999999997" y="206.2" text-anchor="end">20</text><text x="434.59999999999997" y="214.6" text-anchor="end">0</text><text x="434.59999999999997" y="223.4" text-anchor="end">-20</text><text x="434.59999999999997" y="231.1" text-anchor="end">-40</text><text x="435.9" y="239.8" text-anchor="middle">0</text><text x="451.9" y="239.8" text-anchor="middle">100</text><text x="467.9" y="239.8" text-anchor="middle">200</text><text x="483.9" y="239.8" text-anchor="middle">300</text><text x="500.0" y="239.8" text-anchor="middle">400</text><text x="516.0" y="239.8" text-anchor="middle">500</text><text x="532.0" y="239.8" text-anchor="middle">600</text></g>
<text x="485.6" y="248.0" text-anchor="middle" font-family="Liberation Serif, serif" font-size="10.2" fill="#111" stroke="#111" stroke-width="0.15">Position (μm)</text>
<text transform="translate(424.6,222.5) rotate(-90)" text-anchor="middle" font-family="Liberation Serif, serif" font-size="10" fill="#111" stroke="#111" stroke-width="0.15">Depth (μm)</text>
<text transform="translate(21.9,61.2) rotate(-90) scale(0.885,1)" text-anchor="middle" font-family="Liberation Serif, serif" font-weight="bold" font-size="13.7" fill="#000">Workpiece 1</text>
<text transform="translate(21.9,181.2) rotate(-90) scale(0.885,1)" text-anchor="middle" font-family="Liberation Serif, serif" font-weight="bold" font-size="13.7" fill="#000">Workpiece 2</text>
<rect x="3.2" y="4" width="543.5" height="247.8" fill="none" stroke="#3333ff" stroke-width="1.8"/>
<line x1="3.2" y1="129.8" x2="546.7" y2="129.8" stroke="#3333ff" stroke-width="1.8"/>
</svg></body></html>
